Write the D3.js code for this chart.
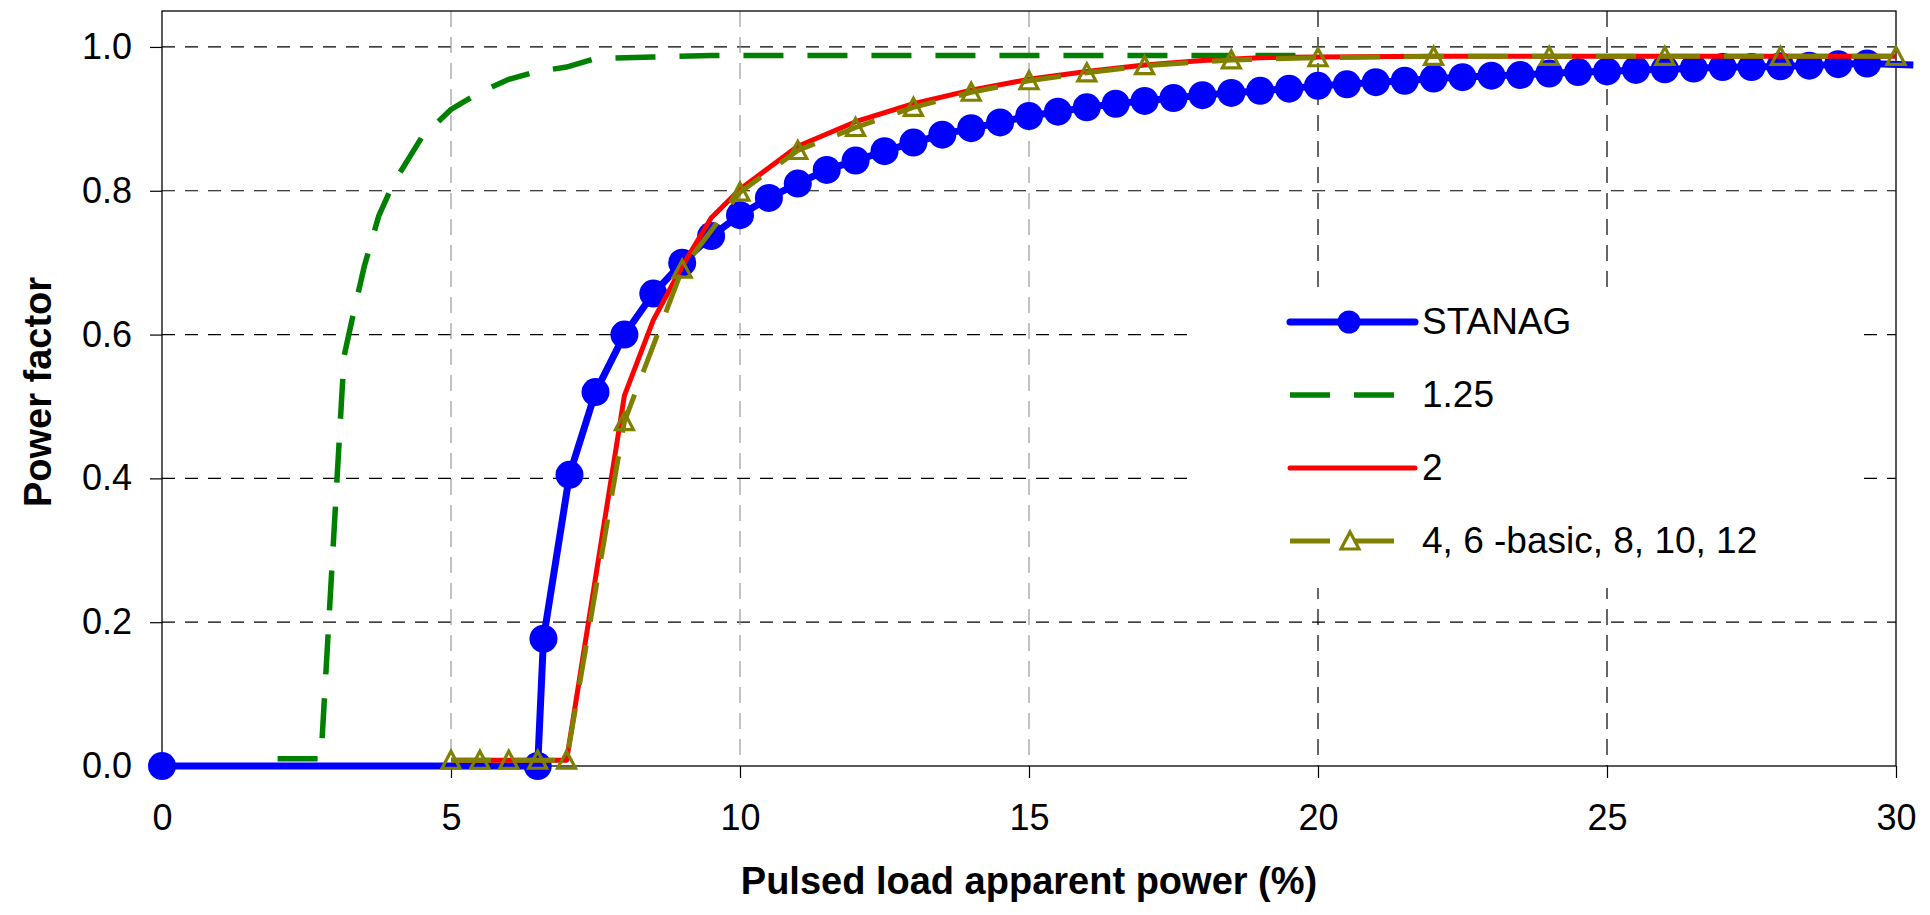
<!DOCTYPE html>
<html>
<head>
<meta charset="utf-8">
<script src="https://cdn.jsdelivr.net/npm/d3@7"></script>
<style>
    body { margin: 0; background: #fff; }
    svg { display: block; font-family: "Liberation Sans", Arial, sans-serif; }
</style>
</head>
<body>
<svg id="target"></svg>
<script>
// Values
let stanagX = [0, 6.5, 6.6, 7.05, 7.5, 8, 8.5, 9, 9.5, 10, 10.5, 11, 11.5, 12, 12.5, 13, 13.5, 14, 14.5,
    15, 15.5, 16, 16.5, 17, 17.5, 18, 18.5, 19, 19.5, 20, 20.5, 21, 21.5, 22, 22.5, 23, 23.5, 24, 24.5,
    25, 25.5, 26, 26.5, 27, 27.5, 28, 28.5, 29, 29.5, 30.3];
let stanagY = [0, 0, 0.177, 0.405, 0.52, 0.60, 0.657, 0.70, 0.737, 0.766, 0.79, 0.81, 0.829, 0.842, 0.855,
    0.867, 0.878, 0.887, 0.895, 0.904, 0.910, 0.916, 0.921, 0.925, 0.929, 0.933, 0.936, 0.939, 0.942, 0.946,
    0.948, 0.951, 0.953, 0.956, 0.958, 0.960, 0.961, 0.963, 0.965, 0.966, 0.968, 0.969, 0.970, 0.972, 0.972,
    0.973, 0.974, 0.976, 0.977, 0.975];

let k125X = [2, 2.75, 3.15, 3.3, 3.5, 3.75, 4, 4.5, 5, 5.5, 6, 6.5, 7, 7.5, 8.5, 9.5, 20];
let k125Y = [0.01, 0.01, 0.57, 0.625, 0.695, 0.765, 0.81, 0.875, 0.913, 0.937, 0.955, 0.966, 0.972, 0.984,
    0.986, 0.988, 0.988];

let k2X = [5, 7, 8, 8.5, 9, 9.5, 10, 11, 12, 13, 14, 15, 16, 17, 18, 19, 20, 22, 30];
let k2Y = [0.008, 0.008, 0.515, 0.62, 0.695, 0.762, 0.802, 0.862, 0.896, 0.921, 0.94, 0.955, 0.966, 0.975,
    0.981, 0.985, 0.986, 0.987, 0.987];

let k4X = [5, 5.5, 6, 6.5, 7, 8, 9, 10, 11, 12, 13, 14, 15, 16, 17, 18.5, 20, 22, 24, 26, 28, 30];
let k4Y = [0.008, 0.008, 0.008, 0.008, 0.008, 0.479, 0.691, 0.798, 0.856, 0.888, 0.916, 0.937, 0.953, 0.964,
    0.974, 0.982, 0.985, 0.987, 0.987, 0.987, 0.987, 0.987];

let xTicks = [0, 5, 10, 15, 20, 25, 30];
let yTicks = [0, 0.2, 0.4, 0.6, 0.8, 1.0];
let seriesNames = ["STANAG", "1.25", "2", "4, 6 -basic, 8, 10, 12"];

let margin = {top: 11, right: 34, bottom: 149, left: 162},
    width = 1930 - margin.left - margin.right,
    height = 915 - margin.top - margin.bottom;

function zip(xs, ys) {
    return xs.map((x, i) => ({x: x, y: ys[i]}));
}

function main() {
    let svg = d3.select("#target")
        .attr("width", width + margin.left + margin.right)
        .attr("height", height + margin.top + margin.bottom)
        .append("g")
        .attr("transform", "translate(" + margin.left + "," + margin.top + ")");

    let x = d3.scaleLinear().domain([0, 30]).range([0, width]);
    let y = d3.scaleLinear().domain([0, 1.05]).range([height, 0]);

    // Horizontal gridlines (black dashed)
    svg.append("g")
        .selectAll("line")
        .data(yTicks.filter(d => d > 0))
        .enter()
        .append("line")
        .attr("x1", 0).attr("x2", width)
        .attr("y1", d => y(d)).attr("y2", d => y(d))
        .attr("stroke", "#000")
        .attr("stroke-width", 1.2)
        .attr("stroke-dasharray", "13,10");

    // Vertical gridlines (grey for the first ones, black after)
    svg.append("g")
        .selectAll("line")
        .data(xTicks.filter(d => d > 0 && d < 30))
        .enter()
        .append("line")
        .attr("x1", d => x(d)).attr("x2", d => x(d))
        .attr("y1", 0).attr("y2", height)
        .attr("stroke", d => d >= 20 ? "#000" : "#999")
        .attr("stroke-width", 1.2)
        .attr("stroke-dasharray", "16,10");

    // Legend background hides the gridlines under it
    let legend = svg.append("g")
        .attr("transform", "translate(" + (1195 - margin.left) + "," + (287 - margin.top) + ")");
    legend.append("rect")
        .attr("width", 667)
        .attr("height", 301)
        .attr("fill", "#fff");

    // Axes
    let yAxis = svg.append("g")
        .call(d3.axisLeft(y).tickValues(yTicks).tickFormat(d3.format(".1f"))
            .tickSize(12).tickSizeOuter(0).tickPadding(18));
    let xAxis = svg.append("g")
        .attr("transform", "translate(0," + height + ")")
        .call(d3.axisBottom(x).tickValues(xTicks)
            .tickSize(12).tickSizeOuter(0).tickPadding(26));
    [yAxis, xAxis].forEach(a => {
        a.select(".domain").remove();
        a.selectAll(".tick line").attr("stroke", "#000").attr("stroke-width", 1.2);
        a.selectAll(".tick text")
            .attr("fill", "#000")
            .style("font-size", "36px")
            .style("font-family", "'Liberation Sans', Arial, sans-serif");
    });

    // Plot frame
    svg.append("rect")
        .attr("width", width)
        .attr("height", height)
        .attr("fill", "none")
        .attr("stroke", "#000")
        .attr("stroke-width", 1.3);

    // Axis titles
    svg.append("text")
        .attr("text-anchor", "middle")
        .attr("x", width / 2)
        .attr("y", height + 128)
        .style("font-size", "38px")
        .style("font-weight", "bold")
        .text("Pulsed load apparent power (%)");

    svg.append("text")
        .attr("text-anchor", "middle")
        .attr("transform", "rotate(-90)")
        .attr("x", -(392 - margin.top))
        .attr("y", 51 - margin.left)
        .style("font-size", "38px")
        .style("font-weight", "bold")
        .text("Power factor");

    let line = d3.line().x(d => x(d.x)).y(d => y(d.y));
    let triangle = "M0,-9L9,8L-9,8Z";

    // STANAG
    let stanag = zip(stanagX, stanagY);
    svg.append("path")
        .datum(stanag)
        .attr("d", line)
        .attr("fill", "none")
        .attr("stroke", "#0000ff")
        .attr("stroke-width", 7)
        .attr("stroke-linejoin", "round");
    svg.append("g")
        .selectAll("circle")
        .data(stanag.filter(d => d.x <= 30))
        .enter()
        .append("circle")
        .attr("cx", d => x(d.x))
        .attr("cy", d => y(d.y))
        .attr("r", 14)
        .attr("fill", "#0000ff");

    // 1.25
    svg.append("path")
        .datum(zip(k125X, k125Y))
        .attr("d", line)
        .attr("fill", "none")
        .attr("stroke", "#008000")
        .attr("stroke-width", 5.5)
        .attr("stroke-dasharray", "40,24");

    // 2
    svg.append("path")
        .datum(zip(k2X, k2Y))
        .attr("d", line)
        .attr("fill", "none")
        .attr("stroke", "#ff0000")
        .attr("stroke-width", 5)
        .attr("stroke-linejoin", "round");

    // 4, 6 -basic, 8, 10, 12
    let k4 = zip(k4X, k4Y);
    svg.append("path")
        .datum(k4)
        .attr("d", line)
        .attr("fill", "none")
        .attr("stroke", "#808000")
        .attr("stroke-width", 5)
        .attr("stroke-dasharray", "40,24");
    svg.append("g")
        .selectAll("path")
        .data(k4)
        .enter()
        .append("path")
        .attr("d", triangle)
        .attr("transform", d => "translate(" + x(d.x) + "," + y(d.y) + ")")
        .attr("fill", "none")
        .attr("stroke", "#808000")
        .attr("stroke-width", 3.2);

    // Legend entries
    let colors = ["#0000ff", "#008000", "#ff0000", "#808000"];
    let widths = [7, 5.5, 5, 5];
    let dashes = [null, "40,24", null, "40,24"];
    let row = legend.selectAll("g.entry")
        .data(seriesNames)
        .enter()
        .append("g")
        .attr("class", "entry")
        .attr("transform", (d, i) => "translate(0," + (35 + i * 73) + ")");
    row.append("line")
        .attr("x1", 95).attr("x2", 220)
        .attr("stroke", (d, i) => colors[i])
        .attr("stroke-width", (d, i) => widths[i])
        .attr("stroke-linecap", (d, i) => dashes[i] ? "butt" : "round")
        .attr("stroke-dasharray", (d, i) => dashes[i]);
    row.filter((d, i) => i === 0)
        .append("circle")
        .attr("cx", 154)
        .attr("r", 11.5)
        .attr("fill", "#0000ff");
    row.filter((d, i) => i === 3)
        .append("path")
        .attr("d", triangle)
        .attr("transform", "translate(155,0)")
        .attr("fill", "#fff")
        .attr("stroke", "#808000")
        .attr("stroke-width", 3.2);
    row.append("text")
        .attr("x", 227)
        .attr("y", 12)
        .style("font-size", "37px")
        .text(d => d);
}

main();
</script>
</body>
</html>
